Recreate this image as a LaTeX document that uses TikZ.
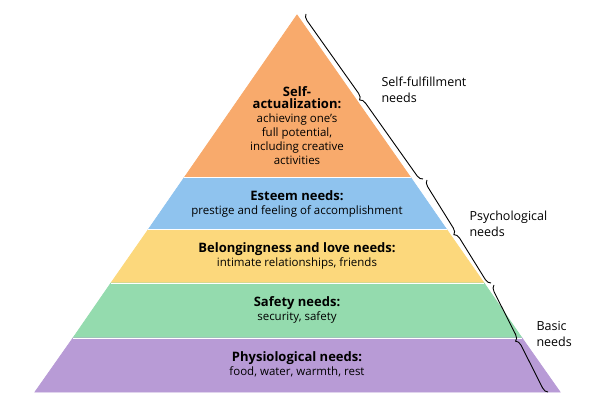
\documentclass[tikz,border=0pt]{standalone}
\usepackage{fontspec}
\setmainfont{Open Sans}
\usetikzlibrary{decorations.pathreplacing}
\definecolor{cOr}{HTML}{F8AA6C}
\definecolor{cBl}{HTML}{8FC3EE}
\definecolor{cYe}{HTML}{FCD87C}
\definecolor{cGr}{HTML}{94DBAE}
\definecolor{cPu}{HTML}{B89BD6}
\tikzset{lay/.style={draw=white,line width=0.8pt},
 lab/.style={align=center,font=\fontsize{11.5}{14}\selectfont,text=black},
 hd/.style={font=\fontsize{13}{15}\selectfont\bfseries},
 brc/.style={decorate,decoration={brace,amplitude=6pt,mirror},line width=0.9pt},
 side/.style={align=left,font=\fontsize{12.5}{16}\selectfont,anchor=west}}
\newcommand{\hdt}[1]{{\fontsize{13}{15}\selectfont\bfseries #1}}
\begin{document}
\begin{tikzpicture}[x=1pt,y=-1pt]
\useasboundingbox (0,0) rectangle (605,406);
\fill[lay,cOr] (297,15) -- (411,178) -- (184,178) -- cycle;
\fill[lay,cBl] (184,178) -- (411,178) -- (447,230) -- (148,230) -- cycle;
\fill[lay,cYe] (148,230) -- (447,230) -- (484,283) -- (111,283) -- cycle;
\fill[lay,cGr] (111,283) -- (484,283) -- (522,338) -- (73,338) -- cycle;
\fill[lay,cPu] (73,338) -- (522,338) -- (560,392) -- (35,392) -- cycle;
\draw[white,line width=1pt] (184,178)--(411,178) (148,230)--(447,230) (111,283)--(484,283) (73,338)--(522,338);
\node[lab] (t1) at (297,126) {\hdt{Self-}\\[-2pt]\hdt{actualization:}\\achieving one’s\\full potential,\\including creative\\activities};
\node[lab] (t2) at (297,204) {\hdt{Esteem needs:}\\prestige and feeling of accomplishment};
\node[lab] (t3) at (297,256) {\hdt{Belongingness and love needs:}\\intimate relationships, friends};
\node[lab] (t4) at (297,310) {\hdt{Safety needs:}\\security, safety};
\node[lab] (t5) at (297,364) {\hdt{Physiological needs:}\\food, water, warmth, rest};
\coordinate (b0) at (306,14);
\coordinate (b1) at (423,179);
\coordinate (b2) at (427,180);
\coordinate (b3) at (491,283);
\coordinate (b4) at (494,285);
\coordinate (b5) at (548,392);
\draw[brc] (b0) -- (b1);
\draw[brc] (b2) -- (b3);
\draw[brc] (b4) -- (b5);
\node[side] (s1) at (378,90) {Self-fulfillment\\needs};
\node[side] (s2) at (466,224) {Psychological\\needs};
\node[side] (s3) at (533,334) {Basic\\needs};
\end{tikzpicture}
\end{document}
